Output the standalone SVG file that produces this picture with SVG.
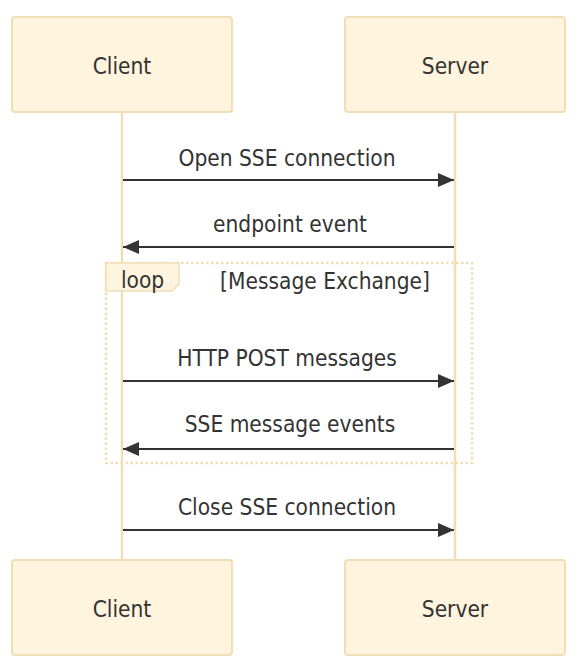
<svg xmlns="http://www.w3.org/2000/svg" width="578" height="669" viewBox="0 0 578 669">
<style>
.actor{fill:#fff4dd;stroke:#f0deb5;stroke-width:2}
.life{stroke:#f0deb5;stroke-width:2.5}
.lbl{font-family:"DejaVu Sans Condensed","DejaVu Sans",sans-serif;font-stretch:condensed;font-size:22.5px;fill:#333;text-anchor:middle}
.msg{stroke:#333;stroke-width:2;fill:none}
.loop{fill:none;stroke:#f0deb5;stroke-width:2.5;stroke-dasharray:2.5 2.5}
.loopLbl{fill:#fff4dd;stroke:#f0deb5;stroke-width:1.5}
</style>
<defs>
<marker id="ah" markerWidth="16" markerHeight="14" refX="16" refY="7" orient="auto" markerUnits="userSpaceOnUse">
<path d="M0,0 L16,7 L0,14 Z" fill="#333"/>
</marker>
</defs>
<g id="lifelines">
<line class="life" x1="122" y1="113" x2="122" y2="560"/>
<line class="life" x1="455" y1="113" x2="455" y2="560"/>
</g>
<g id="client-top"><rect class="actor" x="12" y="17" width="220" height="95" rx="3"/><text class="lbl" x="122" y="73.5">Client</text></g>
<g id="server-top"><rect class="actor" x="345" y="17" width="220" height="95" rx="3"/><text class="lbl" x="455" y="73.5">Server</text></g>
<g id="loop">
<rect class="loop" x="106" y="263" width="366" height="200"/>
<path class="loopLbl" d="M106,263 H179 V284 L172,291 H106 Z"/>
<text class="lbl" x="142.5" y="288">loop</text>
<text class="lbl" x="325" y="288.5">[Message Exchange]</text>
</g>
<g id="connectors">
<line class="msg" x1="123" y1="180" x2="454" y2="180" marker-end="url(#ah)"/>
<text class="lbl" x="287" y="165.5">Open SSE connection</text>
<line class="msg" x1="454" y1="247" x2="123" y2="247" marker-end="url(#ah)"/>
<text class="lbl" x="290" y="232">endpoint event</text>
<line class="msg" x1="123" y1="381" x2="454" y2="381" marker-end="url(#ah)"/>
<text class="lbl" x="287" y="365.5">HTTP POST messages</text>
<line class="msg" x1="454" y1="449" x2="123" y2="449" marker-end="url(#ah)"/>
<text class="lbl" x="290" y="432">SSE message events</text>
<line class="msg" x1="123" y1="530" x2="454" y2="530" marker-end="url(#ah)"/>
<text class="lbl" x="287" y="515">Close SSE connection</text>
</g>
<g id="client-bottom"><rect class="actor" x="12" y="560" width="220" height="95" rx="3"/><text class="lbl" x="122" y="617">Client</text></g>
<g id="server-bottom"><rect class="actor" x="345" y="560" width="220" height="95" rx="3"/><text class="lbl" x="455" y="617">Server</text></g>
</svg>
